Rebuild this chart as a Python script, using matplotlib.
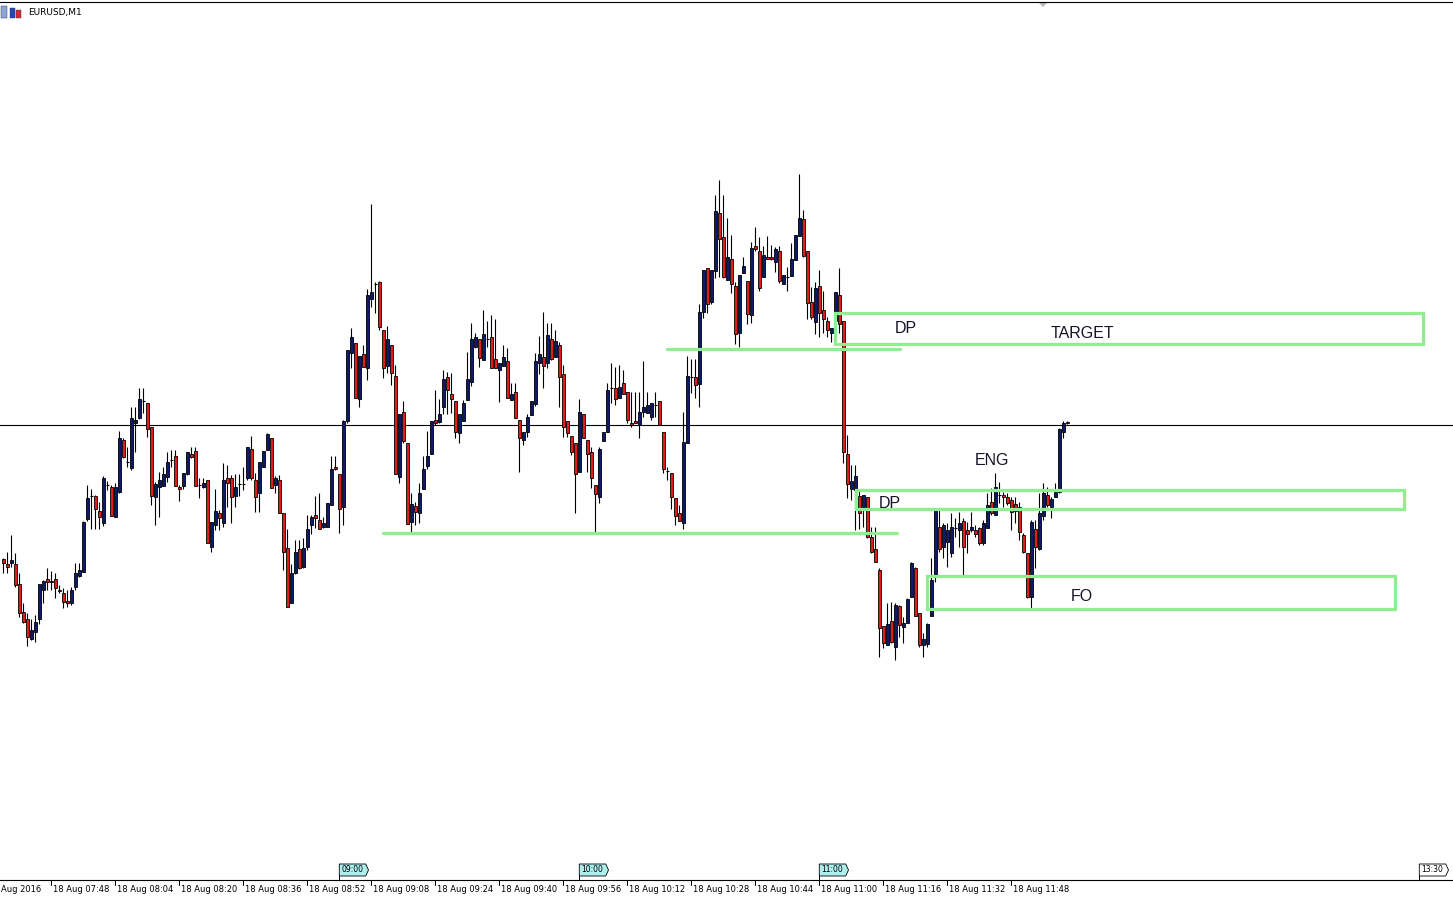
import matplotlib
matplotlib.use("Agg")
import matplotlib.pyplot as plt
from matplotlib.patches import Rectangle, Polygon
from matplotlib.lines import Line2D
import matplotlib.transforms as mtransforms
import numpy as np

# ---------------- data (EURUSD M1, prices as points above 1.13000) ----------------
BASE = 1.13000
POINT = 0.00001
START = "07:36"          # time of first bar (one bar per minute)

open_pts = [
    266, 261, 262, 261, 241, 213, 206, 186, 193, 206,
    235, 246, 243, 246, 235, 232, 224, 222, 238, 249,
    253, 306, 329, 329, 314, 302, 340, 338, 308, 333,
    385, 363, 357, 402, 407, 424, 422, 398, 328, 338,
    339, 348, 365, 369, 338, 339, 351, 371, 374, 340,
    338, 345, 278, 300, 312, 302, 347, 347, 329, 341,
    341, 347, 376, 345, 332, 358, 375, 387, 340, 345,
    312, 277, 222, 252, 276, 258, 278, 300, 310, 305,
    298, 298, 320, 358, 351, 318, 404, 472, 482, 426,
    471, 457, 526, 541, 543, 495, 459, 480, 449, 348,
    413, 382, 303, 319, 312, 336, 359, 371, 405, 403,
    418, 448, 431, 424, 392, 404, 425, 443, 478, 486,
    465, 486, 488, 466, 455, 459, 464, 425, 433, 405,
    385, 393, 410, 421, 462, 468, 462, 486, 468, 480,
    451, 404, 389, 382, 353, 411, 385, 373, 340, 328,
    384, 393, 437, 437, 427, 442, 433, 402, 404, 400,
    413, 412, 408, 420, 424, 393, 354, 352, 327, 312,
    302, 382, 448, 448, 441, 513, 557, 523, 554, 612,
    588, 545, 566, 539, 492, 552, 544, 510, 579, 574,
    548, 568, 568, 563, 574, 541, 548, 549, 565, 589,
    606, 574, 523, 503, 539, 515, 504, 492, 504, 530,
    504, 371, 336, 335, 329, 318, 328, 288, 276, 255,
    199, 180, 204, 178, 219, 198, 202, 228, 257, 212,
    180, 181, 209, 250, 298, 278, 283, 272, 297, 295,
    304, 295, 295, 295, 297, 282, 297, 323, 310, 330,
    330, 328, 325, 321, 318, 290, 272, 228, 296, 276,
    309, 330, 318, 328, 333, 393, 403,
]
high_pts = [
    267, 273, 290, 272, 252, 222, 212, 206, 210, 241,
    245, 257, 254, 252, 240, 237, 235, 238, 262, 262,
    304, 340, 336, 330, 323, 349, 344, 340, 342, 394,
    387, 378, 418, 418, 437, 437, 422, 398, 343, 353,
    358, 373, 375, 375, 340, 352, 373, 378, 378, 347,
    347, 345, 303, 336, 315, 362, 360, 350, 351, 351,
    358, 378, 389, 352, 363, 374, 392, 387, 349, 350,
    312, 296, 261, 285, 285, 287, 310, 310, 329, 332,
    308, 322, 369, 369, 351, 405, 475, 497, 482, 469,
    480, 536, 621, 543, 544, 495, 499, 480, 460, 411,
    424, 382, 332, 323, 342, 369, 394, 404, 435, 426,
    455, 453, 452, 424, 411, 425, 473, 502, 492, 486,
    515, 504, 510, 506, 462, 480, 477, 442, 442, 405,
    393, 411, 424, 472, 489, 513, 502, 502, 495, 483,
    460, 404, 389, 382, 426, 411, 385, 378, 340, 378,
    393, 442, 462, 458, 460, 455, 433, 433, 433, 433,
    464, 433, 422, 433, 424, 393, 358, 352, 327, 320,
    413, 469, 466, 466, 521, 555, 557, 555, 630, 645,
    630, 607, 590, 543, 550, 568, 544, 583, 598, 588,
    579, 589, 580, 578, 579, 550, 558, 582, 590, 651,
    615, 574, 538, 543, 555, 534, 508, 497, 533, 557,
    504, 390, 360, 360, 335, 330, 328, 298, 298, 257,
    199, 222, 223, 222, 220, 208, 227, 263, 258, 212,
    192, 202, 267, 315, 315, 302, 302, 312, 307, 313,
    307, 303, 313, 300, 298, 305, 332, 337, 352, 343,
    333, 332, 328, 328, 323, 292, 272, 305, 305, 332,
    342, 338, 328, 342, 397, 404, 404,
]
low_pts = [
    252, 252, 258, 238, 208, 202, 179, 185, 183, 201,
    222, 235, 235, 227, 232, 217, 218, 220, 235, 248,
    253, 304, 296, 296, 296, 299, 335, 309, 308, 332,
    367, 358, 355, 373, 406, 412, 388, 320, 300, 308,
    339, 343, 358, 339, 324, 336, 350, 367, 339, 327,
    337, 282, 273, 295, 295, 298, 318, 302, 318, 329,
    335, 345, 345, 313, 313, 358, 375, 337, 332, 312,
    255, 218, 222, 251, 256, 257, 275, 291, 297, 296,
    297, 298, 320, 355, 292, 300, 402, 457, 427, 418,
    458, 445, 518, 512, 495, 447, 452, 440, 351, 342,
    382, 301, 293, 300, 302, 336, 356, 371, 400, 402,
    411, 411, 412, 387, 382, 404, 425, 439, 477, 458,
    465, 478, 457, 457, 423, 459, 427, 425, 407, 353,
    380, 388, 410, 419, 451, 437, 457, 465, 468, 418,
    388, 388, 370, 312, 353, 387, 353, 337, 293, 322,
    384, 393, 422, 420, 427, 431, 402, 398, 402, 387,
    408, 412, 405, 408, 400, 352, 345, 316, 300, 304,
    296, 382, 432, 427, 418, 507, 512, 521, 547, 548,
    547, 545, 532, 481, 478, 552, 501, 502, 574, 534,
    548, 566, 565, 553, 542, 541, 534, 549, 565, 589,
    568, 506, 506, 491, 488, 492, 488, 483, 503, 492,
    362, 327, 325, 295, 296, 298, 287, 272, 263, 168,
    177, 180, 182, 165, 188, 182, 202, 228, 209, 178,
    168, 178, 209, 243, 273, 267, 258, 268, 288, 278,
    250, 272, 293, 288, 280, 280, 297, 310, 310, 322,
    318, 320, 295, 302, 285, 272, 227, 217, 257, 275,
    305, 318, 307, 328, 332, 387, 401,
]
close_pts = [
    262, 258, 265, 240, 212, 203, 188, 195, 203, 241,
    244, 243, 244, 237, 234, 223, 222, 235, 252, 255,
    303, 327, 329, 316, 308, 347, 340, 309, 338, 387,
    368, 363, 407, 405, 426, 424, 396, 329, 341, 345,
    351, 363, 365, 339, 336, 352, 373, 368, 339, 340,
    342, 282, 303, 314, 307, 345, 342, 328, 338, 341,
    341, 378, 347, 328, 363, 374, 391, 337, 347, 312,
    273, 218, 252, 273, 257, 277, 296, 308, 307, 296,
    302, 322, 356, 356, 316, 404, 475, 488, 427, 469,
    458, 530, 533, 541, 498, 457, 486, 452, 351, 411,
    384, 301, 321, 313, 332, 356, 369, 404, 402, 411,
    446, 435, 426, 393, 411, 422, 446, 486, 488, 467,
    491, 486, 457, 457, 462, 468, 427, 431, 407, 387,
    393, 408, 424, 464, 471, 459, 490, 466, 484, 448,
    398, 392, 373, 351, 413, 387, 371, 347, 331, 376,
    393, 435, 437, 426, 438, 431, 405, 400, 402, 413,
    418, 420, 422, 420, 400, 356, 354, 328, 309, 304,
    383, 449, 448, 440, 513, 555, 521, 555, 614, 586,
    548, 568, 541, 491, 550, 559, 511, 577, 576, 537,
    570, 566, 566, 576, 544, 550, 548, 566, 590, 607,
    569, 522, 508, 537, 512, 506, 495, 497, 533, 501,
    373, 341, 344, 349, 312, 330, 288, 273, 263, 197,
    182, 201, 183, 220, 200, 202, 226, 262, 209, 180,
    186, 201, 245, 315, 276, 300, 295, 298, 297, 302,
    278, 291, 298, 291, 282, 302, 320, 312, 338, 330,
    328, 322, 313, 314, 293, 273, 228, 303, 278, 312,
    332, 320, 326, 333, 396, 402, 402,
]

bid_pts = 400                     # current bid line

# time-axis labels
axis_label_times = ["07:32", "07:48", "08:04", "08:20", "08:36", "08:52", "09:08",
                    "09:24", "09:40", "09:56", "10:12", "10:28", "10:44", "11:00",
                    "11:16", "11:32", "11:48"]
axis_labels = ["Aug 2016"] + ["18 Aug " + t for t in axis_label_times[1:]]
hour_markers = ["09:00", "10:00", "11:00"]
end_marker = "13:30"

# drawn objects: (start bar, end bar, price level(s) in points)
support_lines = [(94.9, 223.4, 292), (165.9, 224.2, 476)]
zones = [(207.9, 354.9, 481, 512), (213.2, 350.2, 316, 335), (230.9, 347.9, 216, 249)]
labels = [("DP", 225.7, 496), ("TARGET", 269.7, 492), ("DP", 221.7, 322),
          ("ENG", 247.2, 364), ("FO", 269.7, 228)]

# ---------------- helpers ----------------
def to_price(p):
    return BASE + np.asarray(p, dtype=float) * POINT

def t2idx(t):
    h, m = map(int, t.split(":"))
    sh, sm = map(int, START.split(":"))
    return (h * 60 + m) - (sh * 60 + sm)

W, H = 1453, 901
fig = plt.figure(figsize=(W / 100, H / 100), dpi=100)
fig.patch.set_facecolor("white")

ax_bottom = 21 / H
ax_top = 2 / H
ax = fig.add_axes([0, ax_bottom, 1, 1 - ax_bottom - ax_top])
ax.set_xlim(-0.825, 362.425)
ax.set_ylim(to_price(-55), to_price(823))
ax.axis("off")

o = to_price(open_pts)
h = to_price(high_pts)
l = to_price(low_pts)
c = to_price(close_pts)
x = np.arange(len(o))

BULL = "#0c1a6b"
BEAR = "#e41b1b"

hi = np.maximum(h, np.maximum(o, c))
lo = np.minimum(l, np.minimum(o, c))
ax.vlines(x, lo, hi, color="black", lw=0.8, zorder=2)
up = c > o
dn = c < o
eq = c == o
ax.bar(x[up], (c - o)[up], bottom=o[up], width=0.72, color=BULL,
       edgecolor="black", linewidth=0.6, zorder=3)
ax.bar(x[dn], (o - c)[dn], bottom=c[dn], width=0.72, color=BEAR,
       edgecolor="black", linewidth=0.6, zorder=3)
ax.hlines(o[eq], x[eq] - 0.4, x[eq] + 0.4, color="black", lw=0.8, zorder=3)

# bid line
ax.axhline(to_price(bid_pts), color="black", lw=0.8, zorder=1)

GREEN = "#90ee90"
for x0, x1, p in support_lines:
    ax.plot([x0, x1], [to_price(p)] * 2, color=GREEN, lw=2.3, zorder=4,
            solid_capstyle="round")
for x0, x1, p0, p1 in zones:
    ax.add_patch(Rectangle((x0, to_price(p0)), x1 - x0, to_price(p1) - to_price(p0),
                           fill=False, edgecolor=GREEN, lw=2.3, zorder=4))
for txt, xi, p in labels:
    ax.text(xi, to_price(p), txt, fontsize=11.5, family="Liberation Sans",
            color="#141428", ha="center", va="center", zorder=5)

# ---------------- chrome (axis line, ticks, markers) ----------------
def fy(py):
    return 1 - py / H

blend = mtransforms.blended_transform_factory(ax.transData, fig.transFigure)
fig.add_artist(Line2D([0, 1], [fy(880), fy(880)], color="black", lw=0.8,
                      transform=fig.transFigure))
fig.add_artist(Line2D([0, 1], [fy(1.5), fy(1.5)], color="black", lw=0.8,
                      transform=fig.transFigure))

for i, (t, lab) in enumerate(zip(axis_label_times, axis_labels)):
    k = t2idx(t)
    if i == 0:
        fig.text(1 / W, fy(889), lab, fontsize=6, family="DejaVu Sans",
                 ha="left", va="center")
        continue
    fig.add_artist(Line2D([k, k], [fy(880), fy(885)], color="black", lw=0.7,
                          transform=blend))
    fig.text(k + 0.5, fy(889), lab, transform=blend, fontsize=6,
             family="DejaVu Sans", ha="left", va="center")

def marker(k, text, face):
    ys0, ys1 = fy(876), fy(864)
    poly = Polygon([(k, ys0), (k, ys1), (k + 6.6, ys1), (k + 7.3, (ys0 + ys1) / 2),
                    (k + 6.6, ys0)], closed=True, facecolor=face, edgecolor="black",
                   lw=0.6, transform=blend, clip_on=False, zorder=1)
    fig.add_artist(poly)
    fig.add_artist(Line2D([k, k], [fy(876), fy(880)], color="black", lw=0.7,
                          transform=blend))
    fig.text(k + 3.3, fy(870), text, transform=blend, fontsize=5.5,
             family="DejaVu Sans", ha="center", va="center", zorder=5)

for t in hour_markers:
    marker(t2idx(t), t, "#aeeeee")
marker(t2idx(end_marker), end_marker, "white")

# title and icons
fig.text(28 / W, fy(12), "EURUSD,M1", fontsize=6.5, family="DejaVu Sans",
         ha="left", va="center")
for (x0, y0, x1, y1, col) in [(1, 6, 7, 18, "#8da6d6"), (10, 8, 15, 18, "#2448b8"),
                              (16, 10, 21, 18, "#d42a2a")]:
    fig.add_artist(Rectangle((x0 / W, fy(y1)), (x1 - x0) / W, (y1 - y0) / H,
                             transform=fig.transFigure, facecolor=col,
                             edgecolor="#303060", lw=0.3))
fig.add_artist(Polygon([(1039 / W, fy(3)), (1047 / W, fy(3)), (1043 / W, fy(7))],
                       closed=True, transform=fig.transFigure, facecolor="#b8b8b8",
                       edgecolor="none"))

fig.savefig("out.png", dpi=100, facecolor="white")
